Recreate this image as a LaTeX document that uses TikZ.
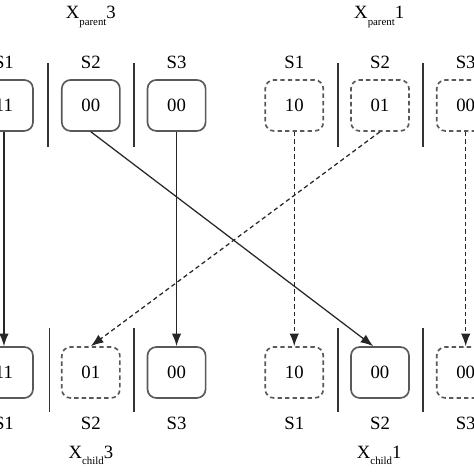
\documentclass[tikz,border=0pt]{standalone}
\usepackage{fontspec}
\setmainfont{Liberation Serif}
\usepackage{tikz}
\usetikzlibrary{arrows.meta}

\newcommand{\chromo}[2]{X\raisebox{-4.5pt}{\fontsize{7.8}{8}\selectfont #1}#2}

\begin{document}
\begin{tikzpicture}[
    gene/.style={rectangle, rounded corners=0.22cm, draw=black!65, line width=1.2pt, minimum width=1.47cm, minimum height=1.29cm, align=center, font=\fontsize{13.5}{16}\selectfont},
    moved/.style={gene, dashed, dash pattern=on 0.11cm off 0.08cm},
    slot/.style={font=\fontsize{13.5}{16}\selectfont},
    sep/.style={draw=black!80, line width=1.1pt},
    arrow/.style={-{Latex[length=0.32cm,width=0.24cm]}, draw=black!85, line width=0.9pt},
    darrow/.style={arrow, dashed, dash pattern=on 0.11cm off 0.08cm}
]
\useasboundingbox (0,0) rectangle (12,12);
\clip (0,0) rectangle (12,12);

% parents
\node[slot] (xp3) at (2.30,11.57) {\chromo{parent}{3}};
\node[slot] (xp1) at (9.60,11.57) {\chromo{parent}{1}};

\node[slot] at (0.10,10.43) {S1};
\node[slot] at (2.30,10.43) {S2};
\node[slot] at (4.47,10.43) {S3};
\node[slot] at (7.45,10.43) {S1};
\node[slot] at (9.62,10.43) {S2};
\node[slot] at (11.79,10.43) {S3};

\node[gene]  (p3s1) at (0.10,9.33)  {11};
\node[gene]  (p3s2) at (2.30,9.33)  {00};
\node[gene]  (p3s3) at (4.47,9.33)  {00};
\node[moved] (p1s1) at (7.45,9.33)  {10};
\node[moved] (p1s2) at (9.62,9.33)  {01};
\node[moved] (p1s3) at (11.79,9.33) {00};

\draw[sep] (1.215,10.41) -- (1.215,8.28);
\draw[sep] (3.39,10.41) -- (3.39,8.28);
\draw[sep] (8.56,10.41) -- (8.56,8.28);
\draw[sep] (10.71,10.41) -- (10.71,8.28);

% children
\node[gene]  (c3s1) at (0.10,2.57)  {11};
\node[moved] (c3s2) at (2.30,2.57)  {01};
\node[gene]  (c3s3) at (4.47,2.57)  {00};
\node[moved] (c1s1) at (7.45,2.57)  {10};
\node[gene]  (c1s2) at (9.62,2.57)  {00};
\node[moved] (c1s3) at (11.79,2.57) {00};

\draw[sep] (1.25,3.70) -- (1.25,1.57);
\draw[sep] (3.39,3.70) -- (3.39,1.57);
\draw[sep] (8.56,3.70) -- (8.56,1.57);
\draw[sep] (10.71,3.70) -- (10.71,1.57);

\node[slot] at (0.10,1.27) {S1};
\node[slot] at (2.30,1.27) {S2};
\node[slot] at (4.47,1.27) {S3};
\node[slot] at (7.45,1.27) {S1};
\node[slot] at (9.62,1.27) {S2};
\node[slot] at (11.79,1.27) {S3};

\node[slot] (xc3) at (2.30,0.48) {\chromo{child}{3}};
\node[slot] (xc1) at (9.60,0.48) {\chromo{child}{1}};

% crossover
\draw[arrow]  (p3s1) -- (c3s1);
\draw[arrow]  (p3s2.south) -- (c1s2.north west -| 9.45,0);
\draw[arrow]  (p3s3) -- (c3s3);
\draw[darrow] (p1s1) -- (c1s1);
\draw[darrow] (p1s2.south) -- (c3s2.north);
\draw[darrow] (p1s3) -- (c1s3);
\end{tikzpicture}
\end{document}
